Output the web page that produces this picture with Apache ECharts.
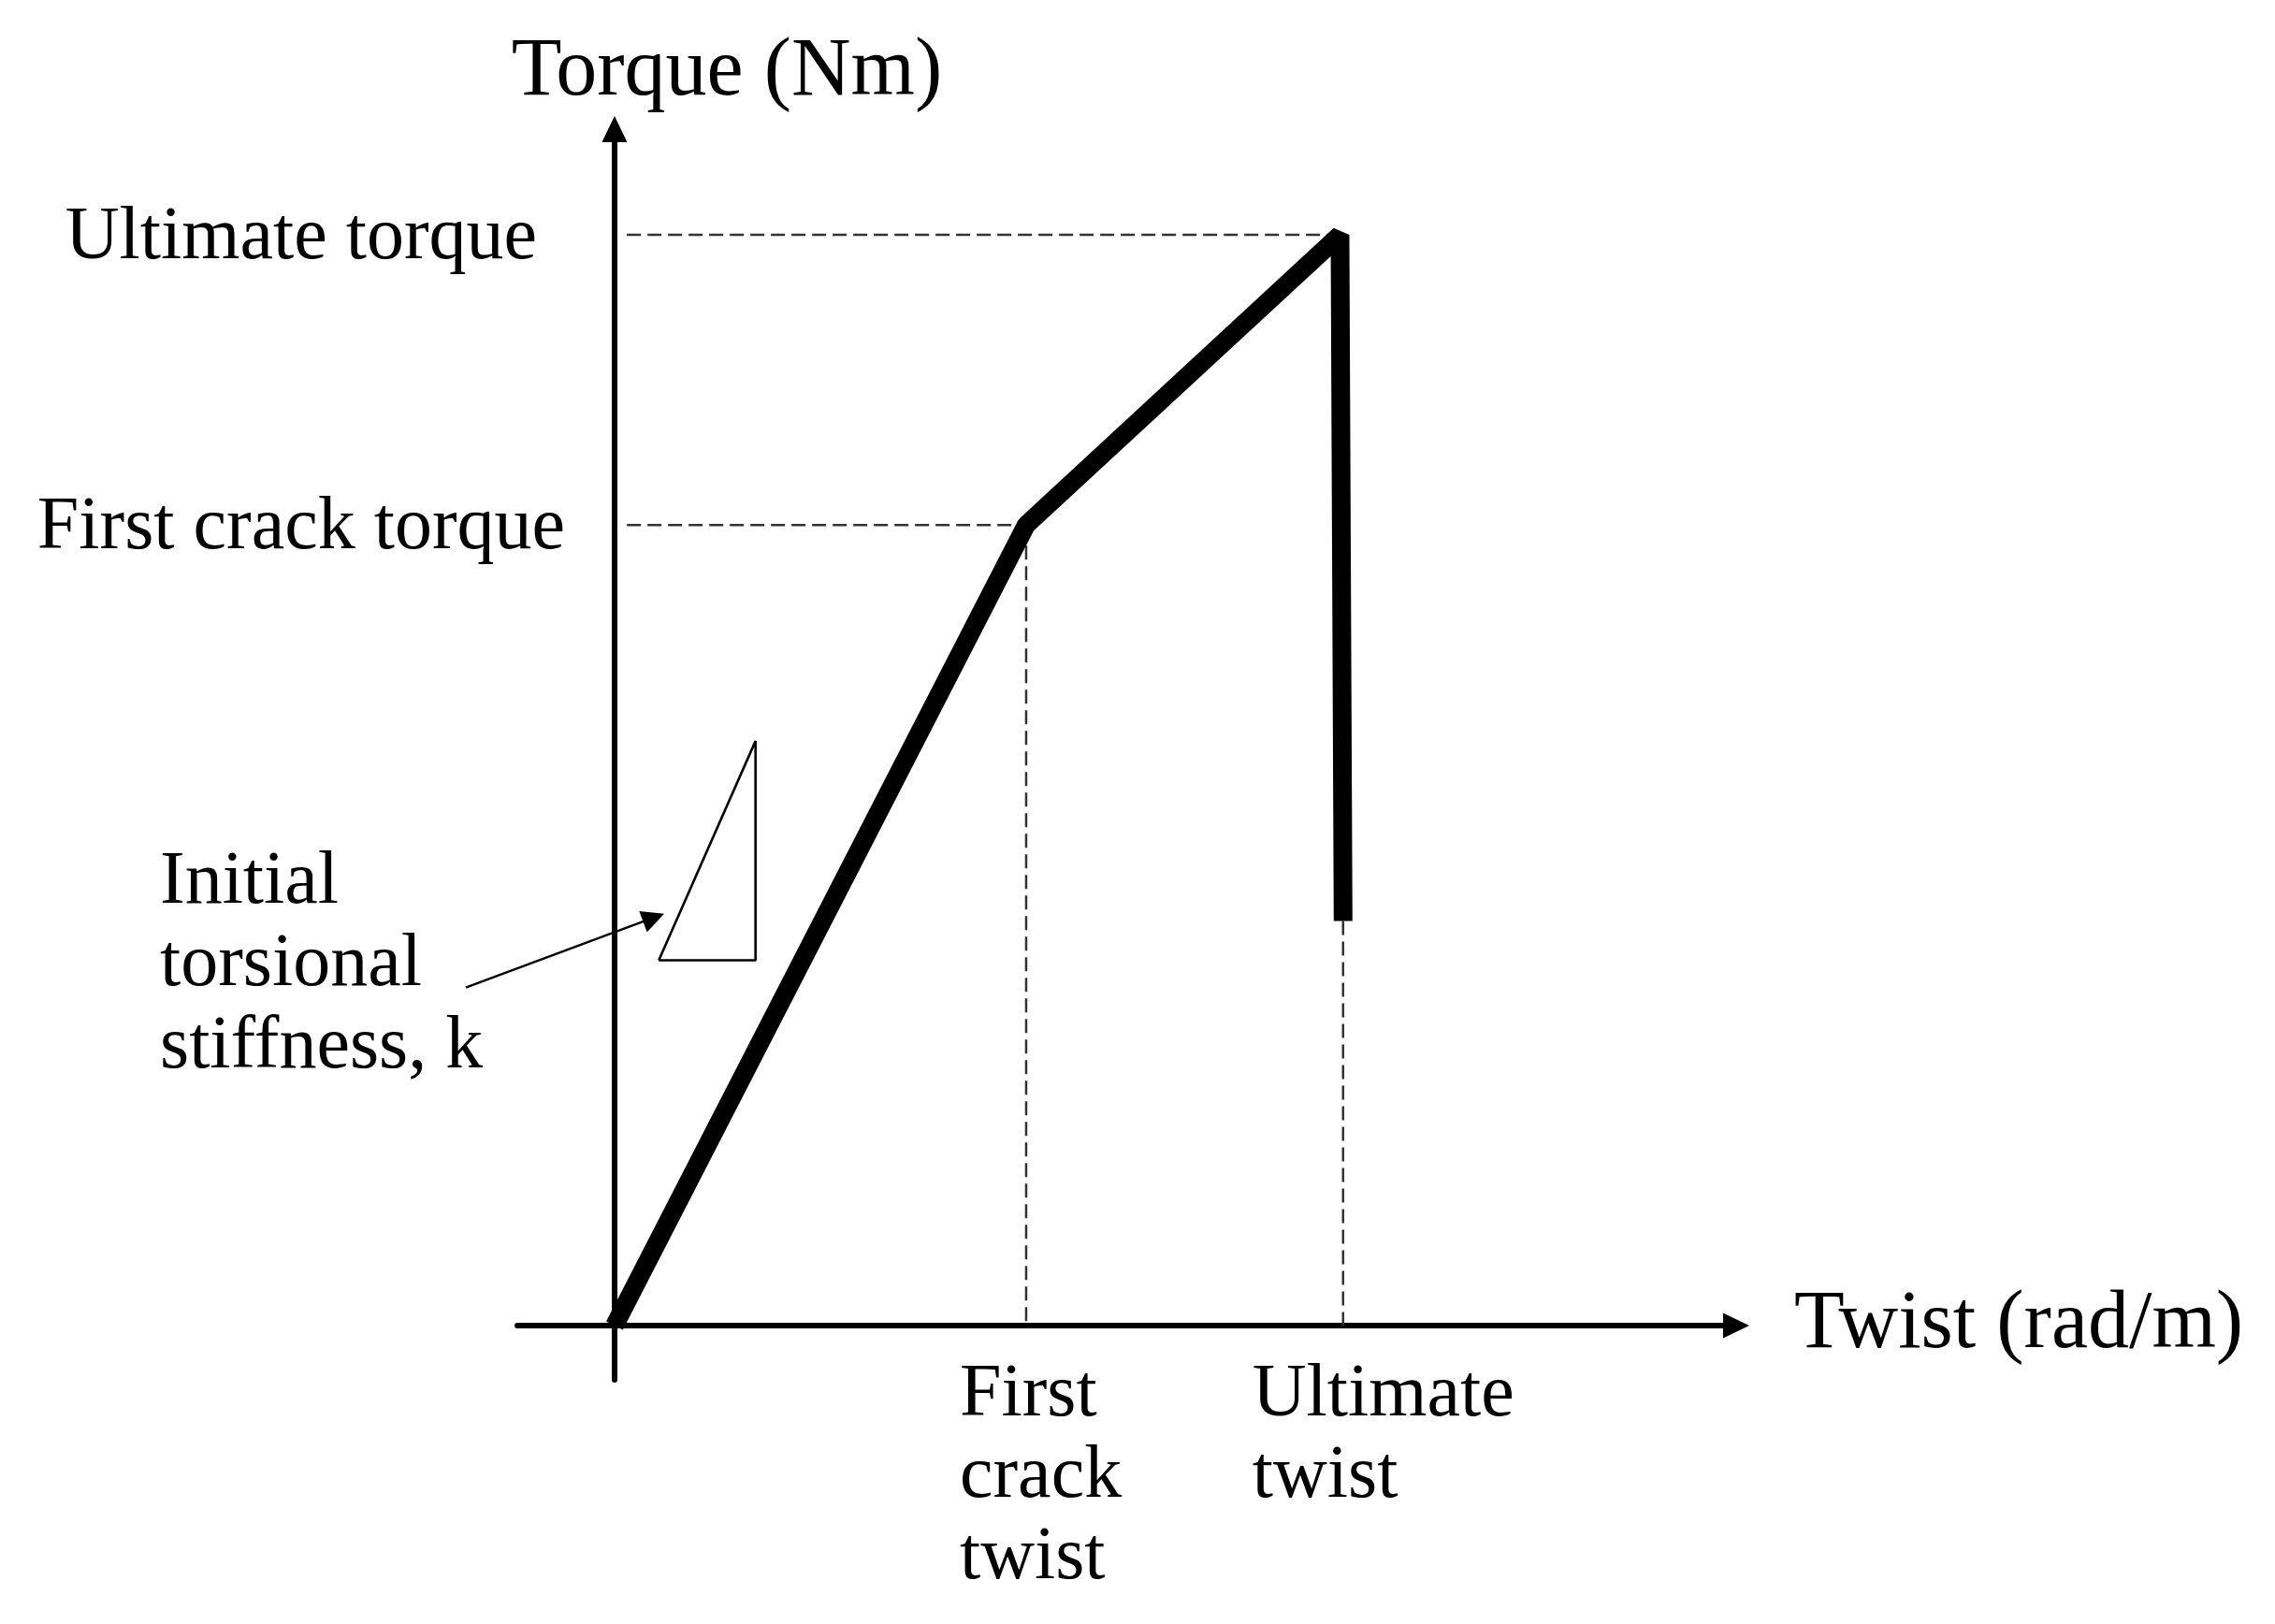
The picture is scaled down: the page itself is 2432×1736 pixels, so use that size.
<!DOCTYPE html>
<html><head><meta charset="utf-8">
<script src="https://cdn.jsdelivr.net/npm/echarts@6/dist/echarts.min.js"></script>
<style>html,body{margin:0;padding:0;background:#fff}#c{width:2432px;height:1736px}</style>
</head><body><div id="c"></div>
<script>
// ---- data ----
const curveTwist = [0, 4, 7.05, 7.08];
const curveTorque = [0, 7.34, 10, 3.71];
const torqueLevels = [7.34, 10];
const torqueLevelNames = ['First crack torque', 'Ultimate torque'];
const twistLevels = [4, 7.08];
const twistLevelNames = ['First\ncrack\ntwist', 'Ultimate\ntwist'];
const triTwist = [0.43, 1.37, 1.37, 0.43];
const triTorque = [3.35, 3.35, 5.36, 3.35];
const pointerTwist = [-1.445, 0.38];
const pointerTorque = [3.10, 3.74];
const stiffnessText = 'Initial\ntorsional\nstiffness, k';
const xName = 'Twist (rad/m)';
const yName = 'Torque (Nm)';
const dashStartTwist = 0.12;

// ---- build ----
const FONT = '"Liberation Serif", "DejaVu Serif", serif';
const chart = echarts.init(document.getElementById('c'), null, {renderer: 'canvas'});
const curve = curveTwist.map((x, i) => [x, curveTorque[i]]);
const dashSegs = [
  [[dashStartTwist, curveTorque[2]], [curveTwist[2], curveTorque[2]]],
  [[dashStartTwist, curveTorque[1]], [curveTwist[1], curveTorque[1]]],
  [[curveTwist[1], curveTorque[1]], [curveTwist[1], 0]],
  [[curveTwist[3], curveTorque[3]], [curveTwist[3], 0]]
];
const dashStyle = {color: '#333', width: 2.5, type: [15, 7]};
const series = dashSegs.map(seg => ({
  type: 'line', data: seg, symbol: 'none', silent: true, clip: false,
  lineStyle: dashStyle, z: 1
}));
series.push({
  type: 'line', data: triTwist.map((x, i) => [x, triTorque[i]]), symbol: 'none',
  silent: true, clip: false, lineStyle: {color: '#000', width: 2.6}, z: 2
});
series.push({
  type: 'lines', coordinateSystem: 'cartesian2d', clip: false, silent: true,
  symbol: ['none', 'triangle'], symbolSize: [16, 24],
  lineStyle: {color: '#000', width: 2.4, opacity: 1},
  data: [{coords: [[pointerTwist[0], pointerTorque[0]], [pointerTwist[1], pointerTorque[1]]]}],
  z: 3
});
series.push({
  type: 'line', data: curve, symbol: 'none', silent: true, clip: false,
  lineStyle: {color: '#000', width: 20, cap: 'butt', join: 'bevel'}, z: 5
});

const axisLineStyle = {color: '#000', width: 6};
chart.setOption({
  animation: false,
  backgroundColor: '#fff',
  grid: {left: 553, top: 138, width: 1303, height: 1337, containLabel: false, outerBoundsMode: 'none'},
  xAxis: {
    type: 'value', min: -0.945, max: 10.9,
    name: xName, nameLocation: 'end', nameGap: 62,
    nameTextStyle: {fontFamily: FONT, fontSize: 88, color: '#000', verticalAlign: 'middle'},
    axisLine: {onZero: true, symbol: ['none', 'triangle'], symbolSize: [27, 28], lineStyle: axisLineStyle},
    axisTick: {show: false}, axisLabel: {show: false}, splitLine: {show: false}
  },
  yAxis: {
    type: 'value', min: -0.497, max: 10.97,
    name: yName, nameLocation: 'end', nameGap: 16,
    nameTextStyle: {fontFamily: FONT, fontSize: 88, color: '#000', padding: [0, 0, 0, 240]},
    axisLine: {onZero: true, symbol: ['none', 'triangle'], symbolSize: [27, 28], lineStyle: axisLineStyle},
    axisTick: {show: false}, splitLine: {show: false}, axisLabel: {show: false}
  },
  series: series
});

const graphics = [];
// torque level names, centred left of the torque axis
torqueLevels.forEach((tq, i) => {
  const p = chart.convertToPixel({gridIndex: 0}, [0, tq]);
  graphics.push({
    type: 'text', silent: true, z: 10,
    style: {
      text: torqueLevelNames[i], x: p[0] - 335, y: p[1] + 4,
      fontFamily: FONT, fontSize: 80, fill: '#000',
      align: 'center', verticalAlign: 'middle'
    }
  });
});
// labels below the twist axis
const labelOffsets = [-71, -97];
twistLevels.forEach((tw, i) => {
  const p = chart.convertToPixel({gridIndex: 0}, [tw, 0]);
  graphics.push({
    type: 'text', silent: true, z: 10,
    style: {
      text: twistLevelNames[i], x: p[0] + labelOffsets[i], y: p[1] + 31,
      fontFamily: FONT, fontSize: 80, lineHeight: 87, fill: '#000',
      align: 'left', verticalAlign: 'top'
    }
  });
});
// stiffness note
const ps = chart.convertToPixel({gridIndex: 0}, [pointerTwist[0], pointerTorque[0]]);
graphics.push({
  type: 'text', silent: true, z: 10,
  style: {
    text: stiffnessText, x: ps[0] - 327, y: ps[1] - 156,
    fontFamily: FONT, fontSize: 80, lineHeight: 88, fill: '#000',
    align: 'left', verticalAlign: 'top'
  }
});
chart.setOption({graphic: graphics});
</script>
</body></html>
